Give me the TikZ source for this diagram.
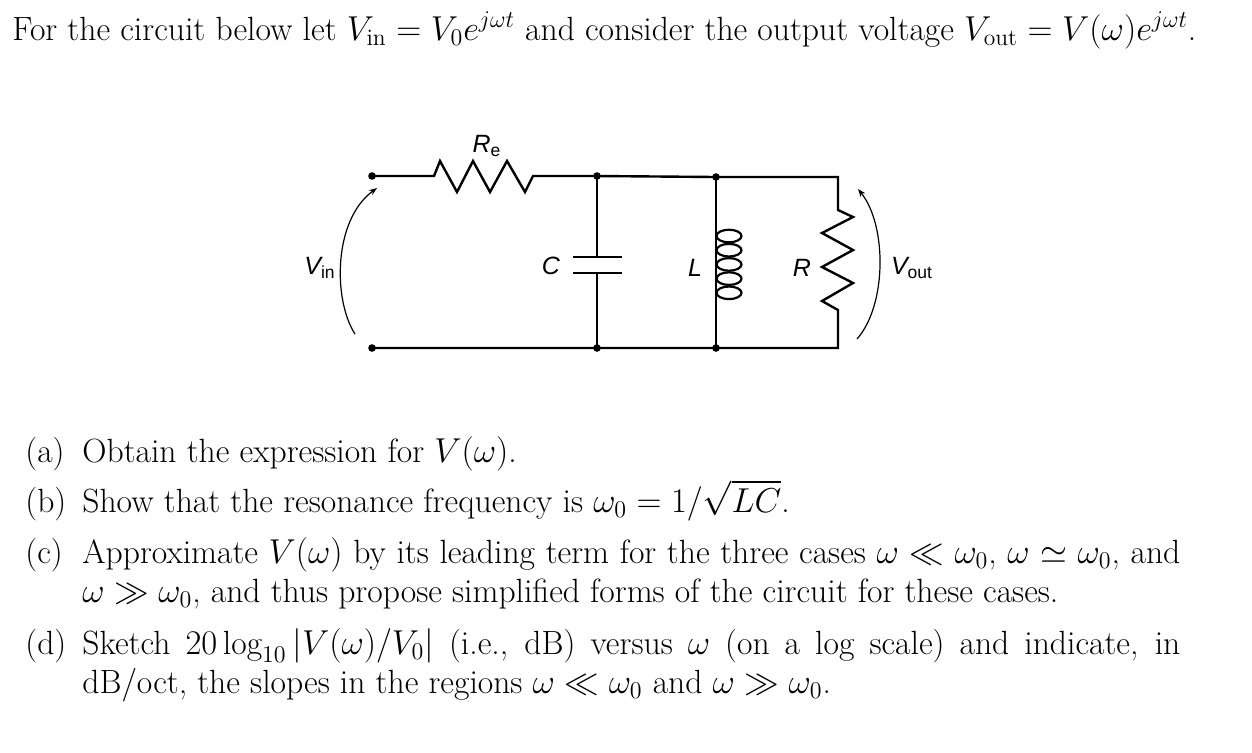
\documentclass[tikz,border=0pt]{standalone}
\usepackage{amsmath,amssymb}
\usepackage{fontspec}
\newfontfamily\arial{Liberation Sans}
\usetikzlibrary{arrows.meta}
\begin{document}
\begin{tikzpicture}[x=0.5pt,y=-0.5pt,
  wire/.style={line width=1.2pt},
  dot/.style={circle,fill=black,inner sep=0pt,minimum size=3.8pt},
  txt/.style={anchor=base west,inner sep=0pt,font=\fontsize{16.8}{19}\selectfont},
  lbl/.style={font=\arial\itshape\fontsize{12.5}{14}\selectfont,inner sep=0pt},
  varr/.style={line width=0.6pt,-{Stealth[length=4pt,width=3pt]}}]
\useasboundingbox (0,0) rectangle (1252,752);
\node[txt] (t0) at (12,40) {For the circuit below let $V_{\text{in}}=V_0e^{j\omega t}$ and consider the output voltage $V_{\text{out}}=V(\omega)e^{j\omega t}$.};
% coordinates
\coordinate (a1) at (372,176); \coordinate (a2) at (372,348);
\coordinate (c1) at (597,176); \coordinate (c2) at (597,348);
\coordinate (l1) at (716,177); \coordinate (l2) at (716,348);
\coordinate (r1) at (838,177); \coordinate (r2) at (838,348);
\draw[wire] (a1) -- (434,176) -- (440,161) -- (457,192) -- (473,161) -- (490,192) -- (507,161) -- (525,192) -- (533,176) -- (c1) -- (l1) -- (r1) -- (838,210) -- (853,217) -- (822,233) -- (853,250) -- (822,267) -- (853,283) -- (822,301) -- (838,310) -- (r2) -- (l2) -- (c2) -- (a2);
% capacitor
\draw[wire] (c1) -- (597,257) (c2) -- (597,273);
\draw[wire] (573,257) -- (622,257) (573,273) -- (622,273);
% inductor
\draw[wire] (l1) -- (l2);
\foreach \k in {0,...,4} \draw[line width=1.1pt] (729,236+14.2*\k) ellipse (12.5 and 6.3);
\foreach \p in {a1,a2,c1,c2,l1,l2} \node[dot] at (\p) {};
% labels
\node[lbl] (re) at (487,146) {R\textsubscript{\upshape e}};
\node[lbl] (cl) at (551,266) {C};
\node[lbl] (ll) at (695,268) {L};
\node[lbl] (rl) at (802,268) {R};
\node[lbl] (vin) at (320,268) {V\textsubscript{\upshape in}};
\node[lbl] (vout) at (912,268) {V\textsubscript{\upshape out}};
\coordinate (va1) at (355,334); \coordinate (va2) at (377,188);
\draw[varr] (va1) .. controls (333,300) and (333,220) .. (va2);
\coordinate (vb1) at (857,339); \coordinate (vb2) at (858,189);
\draw[varr] (vb1) .. controls (887,305) and (887,225) .. (vb2);
% questions
\node[txt] (la) at (25,462) {(a)}; \node[txt] (qa) at (82,462) {Obtain the expression for $V(\omega)$.};
\node[txt] (lb) at (25,512) {(b)}; \node[txt] (qb) at (82,512) {Show that the resonance frequency is $\omega_0=1/\sqrt{LC}$.};
\node[txt] (lc) at (25,563) {(c)}; \node[txt] (qc) at (82,563) {\makebox[549pt][s]{Approximate $V(\omega)$ by its leading term for the three cases $\omega\ll\omega_0$, $\omega\simeq\omega_0$, and}};
\node[txt] (qc2) at (82,602) {$\omega\gg\omega_0$, and thus propose simplified forms of the circuit for these cases.};
\node[txt] (ld) at (25,654) {(d)}; \node[txt] (qd) at (82,654) {\makebox[549pt][s]{Sketch $20\log_{10}|V(\omega)/V_0|$ (i.e., dB) versus $\omega$ (on a log scale) and indicate, in}};
\node[txt] (qd2) at (82,693) {dB/oct, the slopes in the regions $\omega\ll\omega_0$ and $\omega\gg\omega_0$.};
\end{tikzpicture}
\end{document}
